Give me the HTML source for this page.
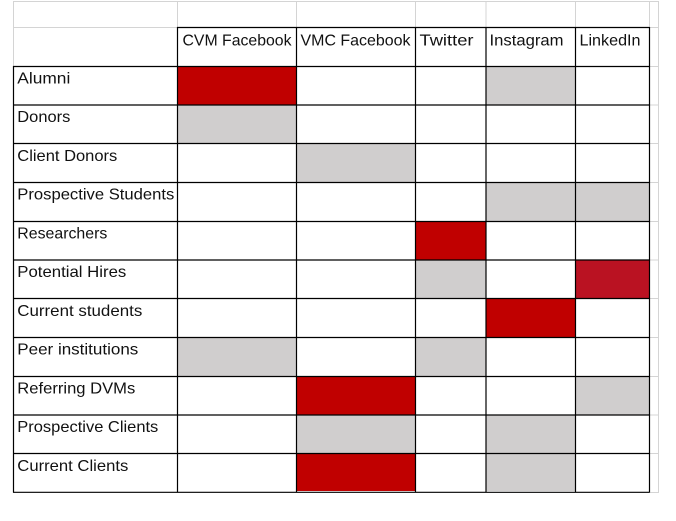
<!DOCTYPE html>
<html><head><meta charset="utf-8"><style>
html,body{margin:0;padding:0;background:#fff;}
svg{display:block;}
text{font-family:"Liberation Sans",Arial,sans-serif;font-size:16px;fill:#111;}
</style></head><body>
<svg width="676" height="521" viewBox="0 0 676 521" xmlns="http://www.w3.org/2000/svg">
<rect width="676" height="521" fill="#fff"/>
<g>
<rect x="177" y="66" width="119" height="38.75" fill="#C00000"/>
<rect x="486" y="66" width="89" height="38.75" fill="#D0CECE"/>
<rect x="177" y="104.75" width="119" height="38.75" fill="#D0CECE"/>
<rect x="296" y="143.5" width="119" height="38.75" fill="#D0CECE"/>
<rect x="486" y="182.25" width="89" height="38.75" fill="#D0CECE"/>
<rect x="575" y="182.25" width="74" height="38.75" fill="#D0CECE"/>
<rect x="415" y="221" width="71" height="38.75" fill="#C00000"/>
<rect x="415" y="259.75" width="71" height="38.75" fill="#D0CECE"/>
<rect x="575" y="259.75" width="74" height="38.75" fill="#BA1222"/>
<rect x="486" y="298.5" width="89" height="38.75" fill="#C00000"/>
<rect x="177" y="337.25" width="119" height="38.75" fill="#D0CECE"/>
<rect x="415" y="337.25" width="71" height="38.75" fill="#D0CECE"/>
<rect x="296" y="376" width="119" height="38.75" fill="#C00000"/>
<rect x="575" y="376" width="74" height="38.75" fill="#D0CECE"/>
<rect x="296" y="414.75" width="119" height="38.75" fill="#D0CECE"/>
<rect x="486" y="414.75" width="89" height="38.75" fill="#D0CECE"/>
<rect x="296" y="453.5" width="119" height="37.5" fill="#C00000"/>
<rect x="486" y="453.5" width="89" height="37.5" fill="#D0CECE"/>
</g>
<g stroke="#D4D4D4" stroke-width="1" fill="none">
<line x1="13" y1="1.5" x2="659" y2="1.5"/>
<line x1="13" y1="27.5" x2="177" y2="27.5"/>
<line x1="13.5" y1="1" x2="13.5" y2="66"/>
<line x1="177.5" y1="1" x2="177.5" y2="27"/>
<line x1="296.5" y1="1" x2="296.5" y2="27"/>
<line x1="415.5" y1="1" x2="415.5" y2="27"/>
<line x1="486" y1="1" x2="486" y2="27"/>
<line x1="575.5" y1="1" x2="575.5" y2="27"/>
<line x1="649.5" y1="1" x2="649.5" y2="27"/>
<line x1="658.5" y1="1" x2="658.5" y2="492.5"/>
<line x1="649" y1="27.5" x2="659" y2="27.5"/>
<line x1="649" y1="66.5" x2="659" y2="66.5"/>
<line x1="649" y1="105" x2="659" y2="105"/>
<line x1="649" y1="143.5" x2="659" y2="143.5"/>
<line x1="649" y1="182.5" x2="659" y2="182.5"/>
<line x1="649" y1="221.5" x2="659" y2="221.5"/>
<line x1="649" y1="260" x2="659" y2="260"/>
<line x1="649" y1="298.5" x2="659" y2="298.5"/>
<line x1="649" y1="337.5" x2="659" y2="337.5"/>
<line x1="649" y1="376.5" x2="659" y2="376.5"/>
<line x1="649" y1="415" x2="659" y2="415"/>
<line x1="649" y1="453.5" x2="659" y2="453.5"/>
<line x1="649" y1="492.5" x2="659" y2="492.5"/>
</g>
<g stroke="#000" stroke-width="1.2" fill="none">
<line x1="177" y1="27.5" x2="649.5" y2="27.5"/>
<line x1="13" y1="66.5" x2="649.5" y2="66.5"/>
<line x1="13" y1="105" x2="649.5" y2="105"/>
<line x1="13" y1="143.5" x2="649.5" y2="143.5"/>
<line x1="13" y1="182.5" x2="649.5" y2="182.5"/>
<line x1="13" y1="221.5" x2="649.5" y2="221.5"/>
<line x1="13" y1="260" x2="649.5" y2="260"/>
<line x1="13" y1="298.5" x2="649.5" y2="298.5"/>
<line x1="13" y1="337.5" x2="649.5" y2="337.5"/>
<line x1="13" y1="376.5" x2="649.5" y2="376.5"/>
<line x1="13" y1="415" x2="649.5" y2="415"/>
<line x1="13" y1="453.5" x2="649.5" y2="453.5"/>
<line x1="13" y1="492.3" x2="649.5" y2="492.3"/>
<line x1="13.5" y1="66" x2="13.5" y2="492.5"/>
<line x1="177.5" y1="27" x2="177.5" y2="492.5"/>
<line x1="296.5" y1="27" x2="296.5" y2="492.5"/>
<line x1="415.5" y1="27" x2="415.5" y2="492.5"/>
<line x1="486" y1="27" x2="486" y2="492.5"/>
<line x1="575.5" y1="27" x2="575.5" y2="492.5"/>
<line x1="649.5" y1="27" x2="649.5" y2="492.5"/>
</g>
<g>
<text x="182.5" y="45.5" textLength="109" lengthAdjust="spacingAndGlyphs">CVM Facebook</text>
<text x="300.5" y="45.5" textLength="110" lengthAdjust="spacingAndGlyphs">VMC Facebook</text>
<text x="419.5" y="45.5" textLength="54" lengthAdjust="spacingAndGlyphs">Twitter</text>
<text x="489.5" y="45.5" textLength="74" lengthAdjust="spacingAndGlyphs">Instagram</text>
<text x="579.5" y="45.5" textLength="61" lengthAdjust="spacingAndGlyphs">LinkedIn</text>
</g>
<g>
<text x="17.3" y="83.5" textLength="53" lengthAdjust="spacingAndGlyphs">Alumni</text>
<text x="17.3" y="122.2" textLength="53" lengthAdjust="spacingAndGlyphs">Donors</text>
<text x="17.3" y="161" textLength="100" lengthAdjust="spacingAndGlyphs">Client Donors</text>
<text x="17.3" y="199.7" textLength="157" lengthAdjust="spacingAndGlyphs">Prospective Students</text>
<text x="17.3" y="238.5" textLength="90" lengthAdjust="spacingAndGlyphs">Researchers</text>
<text x="17.3" y="277.2" textLength="109" lengthAdjust="spacingAndGlyphs">Potential Hires</text>
<text x="17.3" y="316" textLength="125" lengthAdjust="spacingAndGlyphs">Current students</text>
<text x="17.3" y="354.7" textLength="121" lengthAdjust="spacingAndGlyphs">Peer institutions</text>
<text x="17.3" y="393.5" textLength="118" lengthAdjust="spacingAndGlyphs">Referring DVMs</text>
<text x="17.3" y="432.2" textLength="141" lengthAdjust="spacingAndGlyphs">Prospective Clients</text>
<text x="17.3" y="471" textLength="111" lengthAdjust="spacingAndGlyphs">Current Clients</text>
</g>
</svg>
</body></html>
